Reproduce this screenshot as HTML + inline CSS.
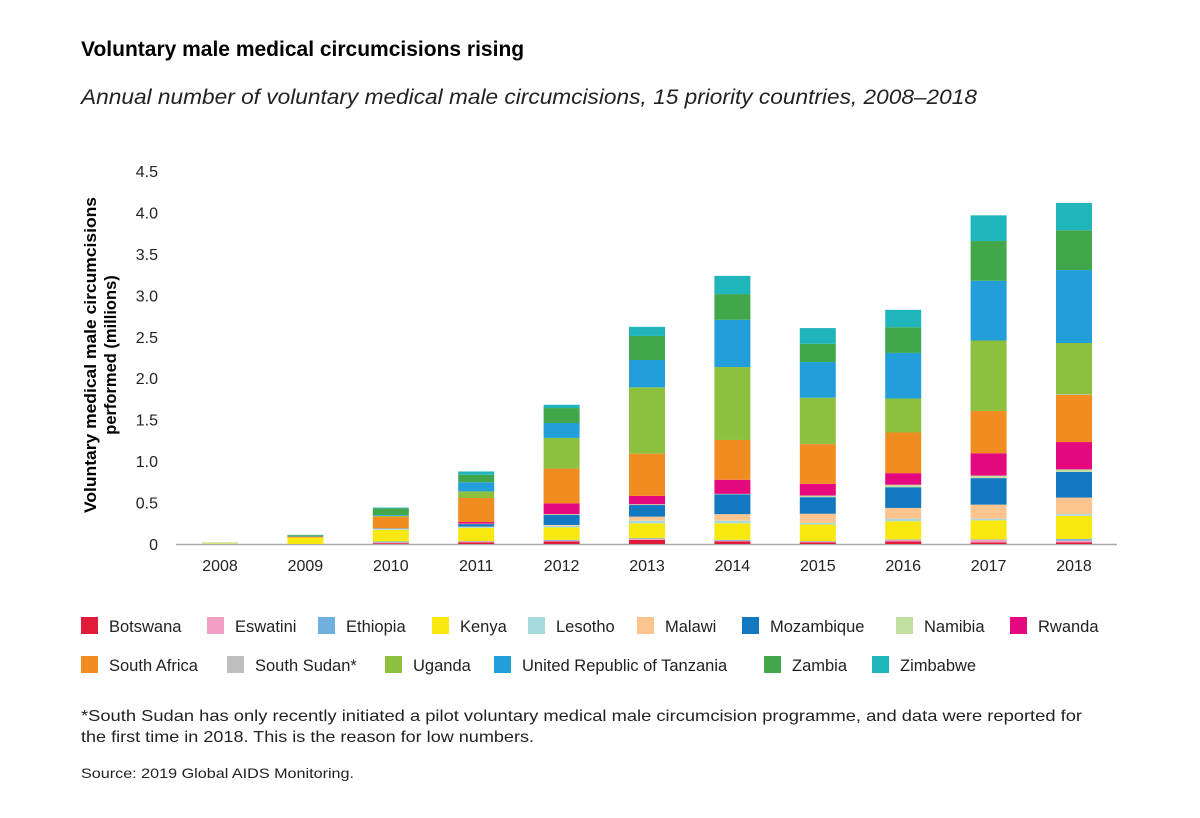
<!DOCTYPE html>
<html><head><meta charset="utf-8"><style>
body{margin:0;background:#fff;font-family:"Liberation Sans",sans-serif;}
svg{display:block}
</style></head><body>
<svg id="c" width="1200" height="818" xmlns="http://www.w3.org/2000/svg" font-family="Liberation Sans, sans-serif">
<text x="81" y="56" font-size="21" font-weight="bold" fill="#000">Voluntary male medical circumcisions rising</text>
<text x="81" y="104" font-size="21" font-style="italic" fill="#222" textLength="896" lengthAdjust="spacingAndGlyphs">Annual number of voluntary medical male circumcisions, 15 priority countries, 2008–2018</text>
<g id="yt" transform="translate(96,355) rotate(-90)" font-size="16.5" font-weight="bold" text-anchor="middle">
<text x="0" y="0" textLength="316" lengthAdjust="spacingAndGlyphs">Voluntary medical male circumcisions</text><text x="0" y="20">performed (millions)</text></g>
<g id="axes"></g><g id="bars"></g><g id="legend"></g>
<text x="81" y="721" font-size="16" fill="#222" textLength="1001" lengthAdjust="spacingAndGlyphs">*South Sudan has only recently initiated a pilot voluntary medical male circumcision programme, and data were reported for</text>
<text x="81" y="742" font-size="16" fill="#222" textLength="453" lengthAdjust="spacingAndGlyphs">the first time in 2018. This is the reason for low numbers.</text>
<text x="81" y="778" font-size="14" fill="#222" textLength="273" lengthAdjust="spacingAndGlyphs">Source: 2019 Global AIDS Monitoring.</text>
</svg>
<script>
const years=["2008","2009","2010","2011","2012","2013","2014","2015","2016","2017","2018"];
const countries=["Botswana","Eswatini","Ethiopia","Kenya","Lesotho","Malawi","Mozambique","Namibia","Rwanda","South Africa","South Sudan*","Uganda","United Republic of Tanzania","Zambia","Zimbabwe"];
const colors=["#e31b3b","#f29fc5","#6fb0e0","#f9e80f","#a5dadf","#fcc590","#1279c0","#c3dfa0","#e4097e","#f18c21","#bcbec0","#8dc03f","#229fdb","#42a74a","#20b5bb"];
const yTicks=[0,0.5,1,1.5,2,2.5,3,3.5,4,4.5];
const yTickLabels=["0","0.5","1.0","1.5","2.0","2.5","3.0","3.5","4.0","4.5"];
const botswana=[0,0,0.01,0.02,0.03,0.05,0.03,0.02,0.03,0.02,0.02];
const eswatini=[0,0,0.01,0.01,0.01,0.01,0.01,0.01,0.02,0.03,0.02];
const ethiopia=[0,0,0.01,0.005,0.01,0.01,0.01,0.005,0.005,0.005,0.02];
const kenya=[0.005,0.08,0.14,0.16,0.15,0.18,0.2,0.2,0.22,0.23,0.28];
const lesotho=[0,0,0.01,0.01,0.02,0.03,0.03,0.02,0.03,0.02,0.02];
const malawi=[0,0,0.005,0.005,0.01,0.05,0.08,0.11,0.13,0.17,0.2];
const mozambique=[0,0,0.005,0.03,0.12,0.14,0.24,0.2,0.25,0.32,0.31];
const namibia=[0.015,0,0,0.005,0.01,0.01,0.005,0.02,0.03,0.03,0.03];
const rwanda=[0,0,0,0.02,0.13,0.1,0.17,0.14,0.14,0.27,0.33];
const southAfrica=[0,0.01,0.14,0.29,0.42,0.51,0.48,0.48,0.49,0.51,0.57];
const southSudan=[0,0,0,0,0,0,0,0,0,0,0.005];
const uganda=[0,0,0.01,0.08,0.37,0.8,0.88,0.56,0.41,0.85,0.62];
const tanzania=[0,0.01,0.01,0.11,0.18,0.33,0.57,0.43,0.55,0.72,0.88];
const zambia=[0,0.01,0.08,0.09,0.18,0.29,0.31,0.22,0.31,0.48,0.48];
const zimbabwe=[0,0,0.01,0.04,0.04,0.11,0.22,0.19,0.21,0.31,0.33];
const series=[botswana,eswatini,ethiopia,kenya,lesotho,malawi,mozambique,namibia,rwanda,southAfrica,southSudan,uganda,tanzania,zambia,zimbabwe];
const NS="http://www.w3.org/2000/svg";
const y0=544,pxPer=(544-171)/4.5;
const yS=v=>y0-v*pxPer;
const xS=i=>220+i*85.4;
function mk(t,a,p){const e=document.createElementNS(NS,t);for(const k in a)e.setAttribute(k,a[k]);p.appendChild(e);return e;}
const axes=document.getElementById('axes');
yTicks.forEach((v,i)=>{const t=mk('text',{x:158,y:yS(v)+6,'font-size':16,'text-anchor':'end',fill:'#222'},axes);t.textContent=yTickLabels[i];

});
const ax=mk('line',{x1:176,x2:1117,y1:y0+0.5,y2:y0+0.5,stroke:'#aaa','stroke-width':1.5},axes);


years.forEach((y,i)=>{const t=mk('text',{x:xS(i),y:571,'font-size':16,'text-anchor':'middle',fill:'#222'},axes);t.textContent=y;

});
const bars=document.getElementById('bars');
years.forEach((y,i)=>{let c=0;series.forEach((s,j)=>{const v=s[i];if(v<=0)return;const r=mk('rect',{x:xS(i)-18,width:36,y:yS(c+v),height:v*pxPer,fill:colors[j]},bars);


c+=v;});});
const lg=document.getElementById('legend');
const lx=[[81,207,318,432,528,637,742,896,1010],[81,227,385,494,764,872]];
let k=0;lx.forEach((row,ri)=>{row.forEach(x=>{const yy=ri?656:617;
const g=mk('g',{},lg);


mk('rect',{x:x,y:yy,width:17,height:17,fill:colors[k]},g);
const t=mk('text',{x:x+28,y:yy+15,'font-size':16.5,fill:'#222'},g);t.textContent=countries[k];k++;});});
</script>
</body></html>
